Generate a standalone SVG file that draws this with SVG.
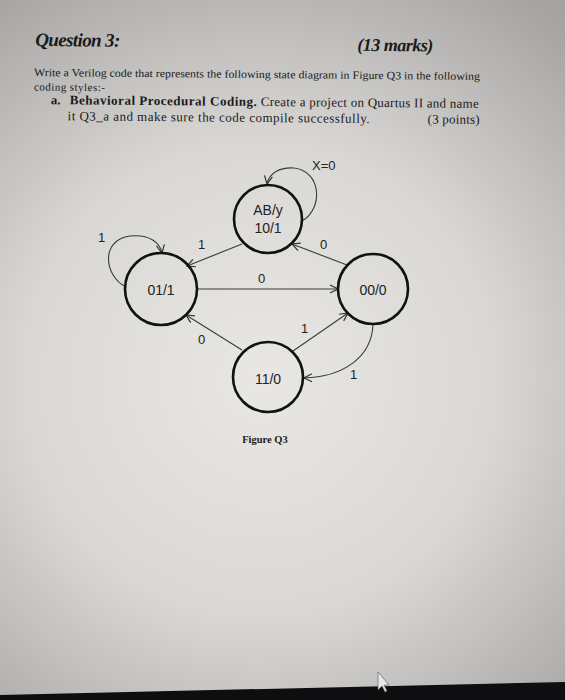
<svg xmlns="http://www.w3.org/2000/svg" width="565" height="700" viewBox="0 0 565 700">
<defs>
<radialGradient id="bg" cx="260" cy="380" r="470" gradientUnits="userSpaceOnUse">
<stop offset="0" stop-color="#e9e7e4"/>
<stop offset="0.5" stop-color="#dad8d5"/>
<stop offset="1" stop-color="#a4a3a2"/>
</radialGradient>
<marker id="ah" viewBox="0 0 10 10" refX="9" refY="5" markerWidth="10" markerHeight="10" markerUnits="userSpaceOnUse" orient="auto">
<path d="M1,1 L9,5 L1,9" fill="none" stroke="#333" stroke-width="1.2"/>
</marker>
<style>
.st{fill:none;stroke:#111;stroke-width:2.6}
.lbl{font-family:"Liberation Sans","Open Sans",sans-serif;font-size:14px;fill:#222;text-anchor:middle}
.ed{fill:none;stroke:#3a3a3a;stroke-width:1.1;marker-end:url(#ah)}
.el{font-family:"Liberation Sans","Open Sans",sans-serif;font-size:13px;fill:#222}
.ser{font-family:"Liberation Serif","Times New Roman",serif;fill:#1a1a1a}
</style>
</defs>
<rect width="565" height="700" fill="url(#bg)"/>
<polygon points="0,695 565,682 565,700 0,700" fill="#0e0e10"/>
<polygon points="378,672 378,690 382,686 385,692 387,691 384,685 389,685" fill="#e8e8e8" stroke="#555" stroke-width="0.6"/>

<g id="header" transform="rotate(0.5 34 77)">
<text class="ser" x="35" y="46" font-size="19" font-weight="bold" font-style="italic" textLength="85">Question 3:</text>
<text class="ser" x="357" y="48" font-size="18" font-weight="bold" font-style="italic" textLength="76">(13 marks)</text>
<text class="ser" x="34" y="76" font-size="11" textLength="446" lengthAdjust="spacingAndGlyphs">Write a Verilog code that represents the following state diagram in Figure Q3 in the following</text>
<text class="ser" x="34" y="90.5" font-size="11" textLength="71">coding styles:-</text>
<text class="ser" x="51" y="104" font-size="13"><tspan font-weight="bold">a.</tspan></text>
<text class="ser" x="70" y="104" font-size="13" font-weight="bold" textLength="187">Behavioral Procedural Coding.</text>
<text class="ser" x="261" y="104" font-size="13" textLength="218">Create a project on Quartus II and name</text>
<text class="ser" x="68" y="120" font-size="13" textLength="302">it Q3_a and make sure the code compile successfully.</text>
<text class="ser" x="428" y="120" font-size="13" textLength="52">(3 points)</text>
</g>

<g id="connectors">
<path class="ed" d="M302,221 C324,208 321,171 294,168 C280,167 269,173 267,184"/>
<path class="ed" d="M126,287 C104,276 100,240 130,236 C150,234 160,243 162,253"/>
<path class="ed" d="M242,244 L187,266"/>
<path class="ed" d="M347,265 L292,244"/>
<path class="ed" d="M197,289 L338,289"/>
<path class="ed" d="M242,350 L186,315"/>
<path class="ed" d="M293,351 L348,313"/>
<path class="ed" d="M373,324 C372,358 342,377 304,378"/>
<text class="el" x="312" y="170">X=0</text>
<text class="el" x="98" y="242">1</text>
<text class="el" x="198" y="249">1</text>
<text class="el" x="320" y="249">0</text>
<text class="el" x="258" y="283">0</text>
<text class="el" x="301" y="333">1</text>
<text class="el" x="198" y="344">0</text>
<text class="el" x="350" y="379">1</text>
</g>

<g id="s10">
<circle class="st" cx="268" cy="219" r="34"/>
<text class="lbl" x="268" y="215">AB/y</text>
<text class="lbl" x="268" y="233">10/1</text>
</g>
<g id="s01">
<circle class="st" cx="161" cy="289" r="36"/>
<text class="lbl" x="161" y="295">01/1</text>
</g>
<g id="s00">
<circle class="st" cx="373" cy="289" r="35"/>
<text class="lbl" x="373" y="295">00/0</text>
</g>
<g id="s11">
<circle class="st" cx="268" cy="377" r="35"/>
<text class="lbl" x="268" y="384">11/0</text>
</g>

<text class="ser" x="265" y="443" font-size="10.5" font-weight="bold" text-anchor="middle">Figure Q3</text>
</svg>
